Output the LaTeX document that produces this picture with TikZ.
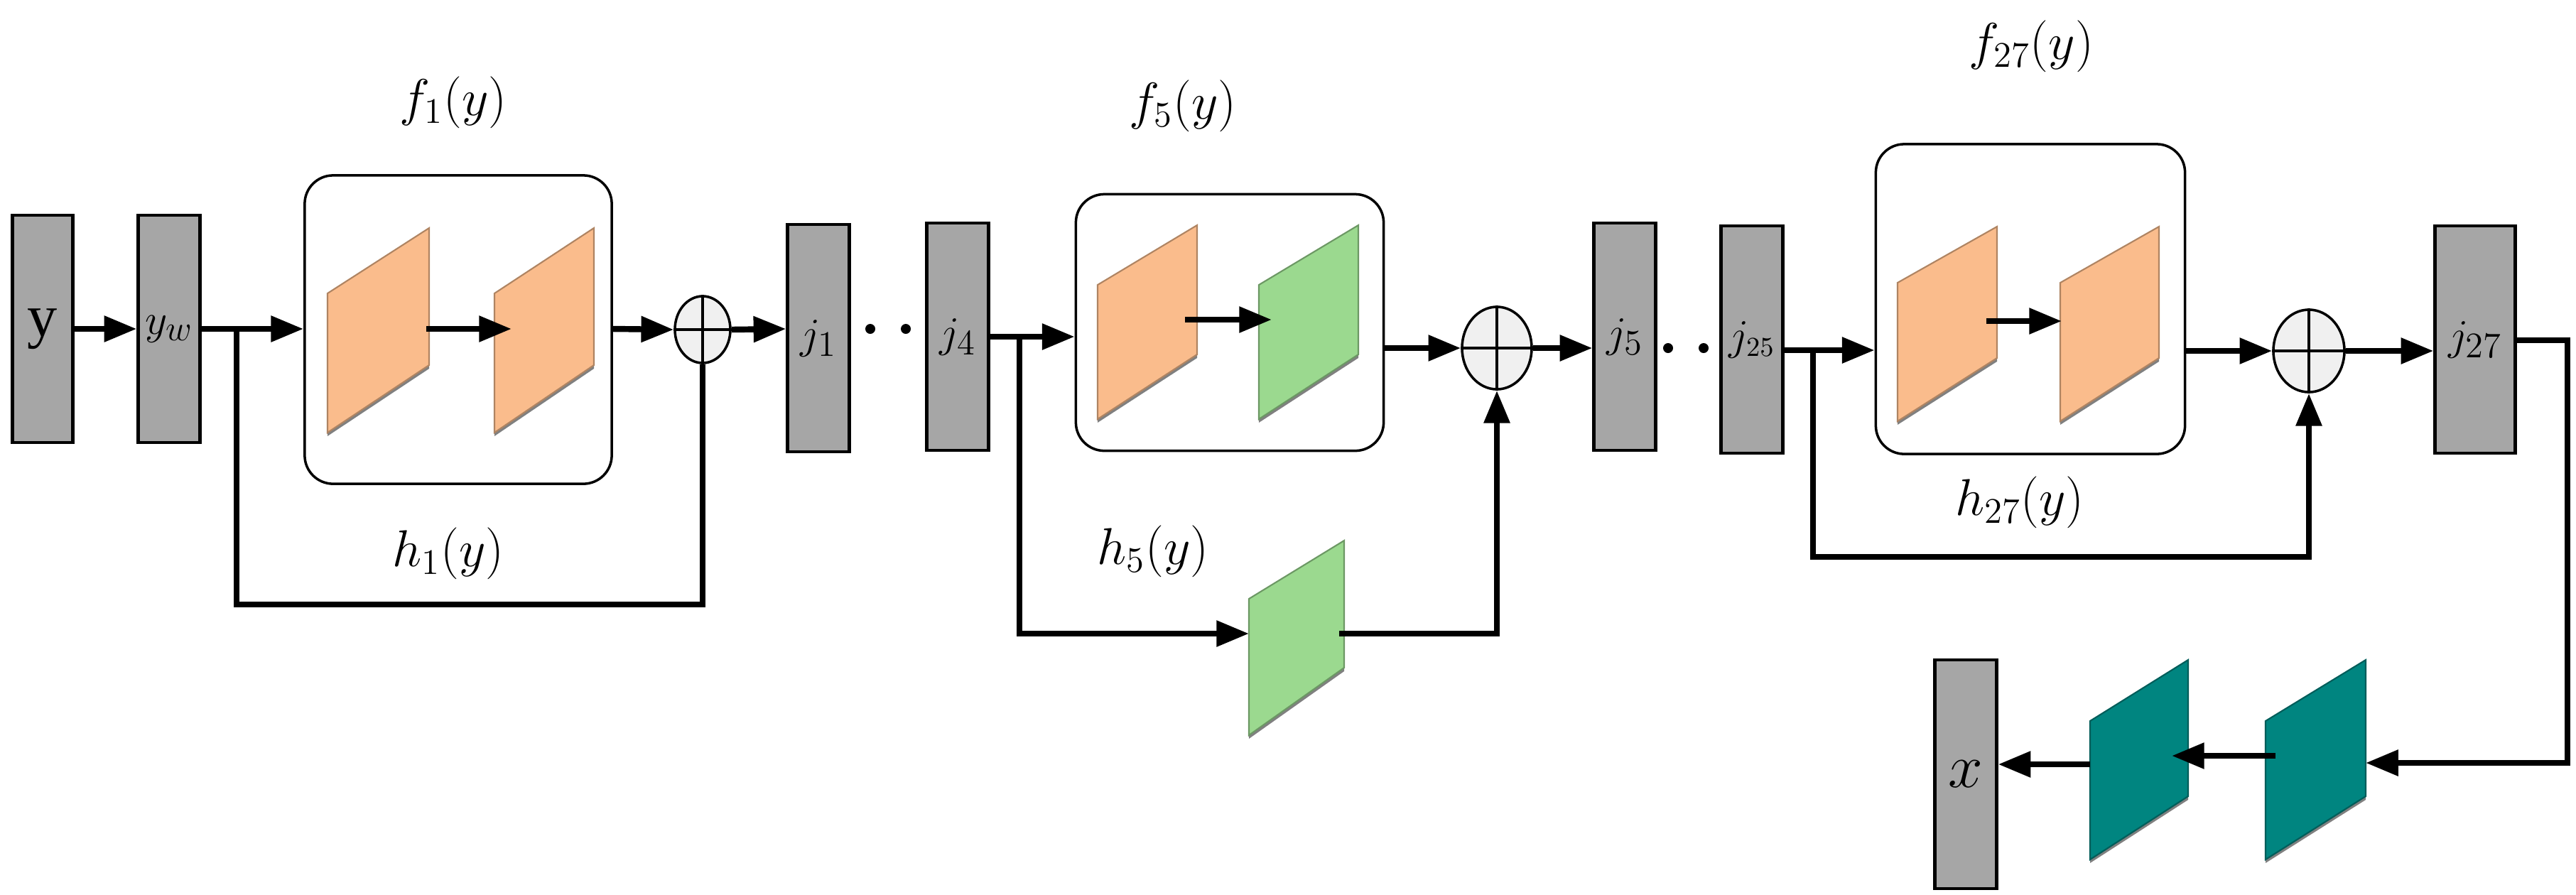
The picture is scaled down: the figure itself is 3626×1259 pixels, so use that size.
\documentclass[tikz,border=0pt]{standalone}
\usepackage{amsmath}
\usepackage{fontspec}
\setmainfont{Liberation Serif}
\usetikzlibrary{arrows.meta,shapes.geometric}
\definecolor{boxgray}{RGB}{166,166,166}
\definecolor{orangeslab}{RGB}{250,188,140}
\definecolor{greenslab}{RGB}{155,217,143}
\definecolor{tealslab}{RGB}{0,133,128}
\definecolor{sumfill}{RGB}{240,240,240}
\newcommand{\slab}[8]{% name, xl, xr, left top, left bottom, right top, right bottom, colour
  \fill[gray] (#2,#5+5) -- (#3,#7+5) -- (#3,#7) -- (#2,#5) -- cycle;
  \draw[#8!70!black, fill=#8, line width=0.6pt] (#2,#4) -- (#3,#6) -- (#3,#7) -- (#2,#5) -- cycle;
  \coordinate (#1) at ({(#2+#3)/2},{(#4+#7)/2});
}
\begin{document}
\begin{tikzpicture}[x=0.01cm,y=-0.01cm]
  \tikzset{gbox/.style = {draw, fill=boxgray, line width=1.2pt, minimum width=0.87cm,
                          minimum height=3.2cm, inner sep=0pt, font=\fontsize{19}{21}\selectfont},
           block/.style = {draw, rounded corners=0.4cm, line width=1pt, inner sep=0pt},
           sum/.style = {ellipse, draw, fill=sumfill, line width=1pt, inner sep=0pt},
           wire/.style = {line width=2.4pt},
           arr/.style = {wire, -{Triangle[length=13pt,width=10pt]}},
           lab/.style = {font=\fontsize{22}{26}\selectfont}}
  \useasboundingbox (0,0) rectangle (3626,1259);

  % gray feature maps
  \node[gbox, minimum width=0.85cm] (y)  at (60,463)   {\fontsize{24}{26}\selectfont y};
  \node[gbox] (yw)  at (238,463)  {$y_w$};
  \node[gbox] (j1)  at (1152,476) {$j_1$};
  \node[gbox] (j4)  at (1348,474) {$j_4$};
  \node[gbox] (j5)  at (2287,474) {$j_5$};
  \node[gbox, font=\fontsize{16}{18}\selectfont] (j25) at (2466,478) {$j_{25}$};
  \node[gbox, minimum width=1.13cm] (j27) at (3484,478) {$j_{27}$};
  \node[gbox, minimum height=3.22cm] (x) at (2767,1090) {\fontsize{28}{30}\selectfont$x$};

  % residual blocks
  \node[block, minimum width=4.32cm, minimum height=4.34cm] (b1) at (645,464) {};
  \node[block, minimum width=4.33cm, minimum height=3.61cm] (b5) at (1731,454) {};
  \node[block, minimum width=4.35cm, minimum height=4.36cm] (b27) at (2858,421) {};

  % sums
  \node[sum, minimum width=0.78cm, minimum height=0.94cm] (s1) at (989,464) {};
  \node[sum, minimum width=0.98cm, minimum height=1.16cm] (s2) at (2107,490) {};
  \node[sum, minimum width=1.00cm, minimum height=1.16cm] (s3) at (3250,494) {};
  \foreach \s in {s1,s2,s3}{
    \draw[line width=1pt] (\s.north) -- (\s.south) (\s.west) -- (\s.east);
  }

  % layers
  \slab{p1}{461}{604}{413}{609}{321}{514}{orangeslab}
  \slab{p2}{696}{836}{413}{609}{321}{514}{orangeslab}
  \slab{p3}{1545}{1685}{401}{590}{317}{499}{orangeslab}
  \slab{p4}{1772}{1912}{401}{590}{317}{499}{greenslab}
  \slab{p5}{1758}{1892}{843}{1035}{761}{940}{greenslab}
  \slab{p6}{2671}{2811}{398}{593}{319}{504}{orangeslab}
  \slab{p7}{2900}{3039}{398}{593}{319}{504}{orangeslab}
  \slab{p8}{3189}{3330}{1015}{1210}{929}{1121}{tealslab}
  \slab{p9}{2942}{3080}{1015}{1210}{929}{1121}{tealslab}

  % dots
  \foreach \d in {1225,1275}{ \fill (\d,463) circle (7); }
  \foreach \d in {2348,2398}{ \fill (\d,490) circle (7); }

  % first block
  \coordinate (a1) at (333,463);
  \draw[arr] (y.east |- 0,463) -- (yw.west |- 0,463);
  \draw[arr] (yw.east |- 0,463) -- (b1.west |- 0,463);
  \draw[arr] (600,463) -- (720,463);
  \draw[arr] (b1.east |- 0,463) -- (s1.west);
  \draw[arr] (s1.east) -- (j1.west |- 0,463);
  \draw[wire] (a1) -- (333,851) -- (s1.south |- 0,851) -- (s1.south);

  % second block
  \coordinate (a5) at (1435,474);
  \draw[arr] (j4.east |- 0,474) -- (b5.west |- 0,474);
  \draw[arr] (1668,450) -- (1790,450);
  \draw[arr] (b5.east |- 0,490) -- (s2.west);
  \draw[arr] (s2.east) -- (j5.west |- 0,490);
  \draw[arr] (a5) -- (1435,892) -- (1758,892);
  \draw[arr] (1885,892) -- (s2.south |- 0,892) -- (s2.south);

  % third block
  \coordinate (a27) at (2552,493);
  \draw[arr] (j25.east |- 0,493) -- (b27.west |- 0,493);
  \draw[arr] (2796,452) -- (2902,452);
  \draw[arr] (b27.east |- 0,494) -- (s3.west);
  \draw[arr] (s3.east) -- (j27.west |- 0,494);
  \draw[arr] (a27) -- (2552,784) -- (s3.south |- 0,784) -- (s3.south);

  % output
  \draw[arr] (j27.east |- 0,479) -- (3614,479) -- (3614,1074) -- (3330,1074);
  \draw[arr] (3203,1064) -- (3057,1064);
  \draw[arr] (2942,1076) -- (x.east |- 0,1076);

  % labels
  \node[lab] (lf1)  at (638,144)  {$f_1(y)$};
  \node[lab] (lh1)  at (631,779)  {$h_1(y)$};
  \node[lab] (lf5)  at (1665,149) {$f_5(y)$};
  \node[lab] (lh5)  at (1623,776) {$h_5(y)$};
  \node[lab] (lf27) at (2859,65)  {$f_{27}(y)$};
  \node[lab] (lh27) at (2843,707) {$h_{27}(y)$};
\end{tikzpicture}
\end{document}
